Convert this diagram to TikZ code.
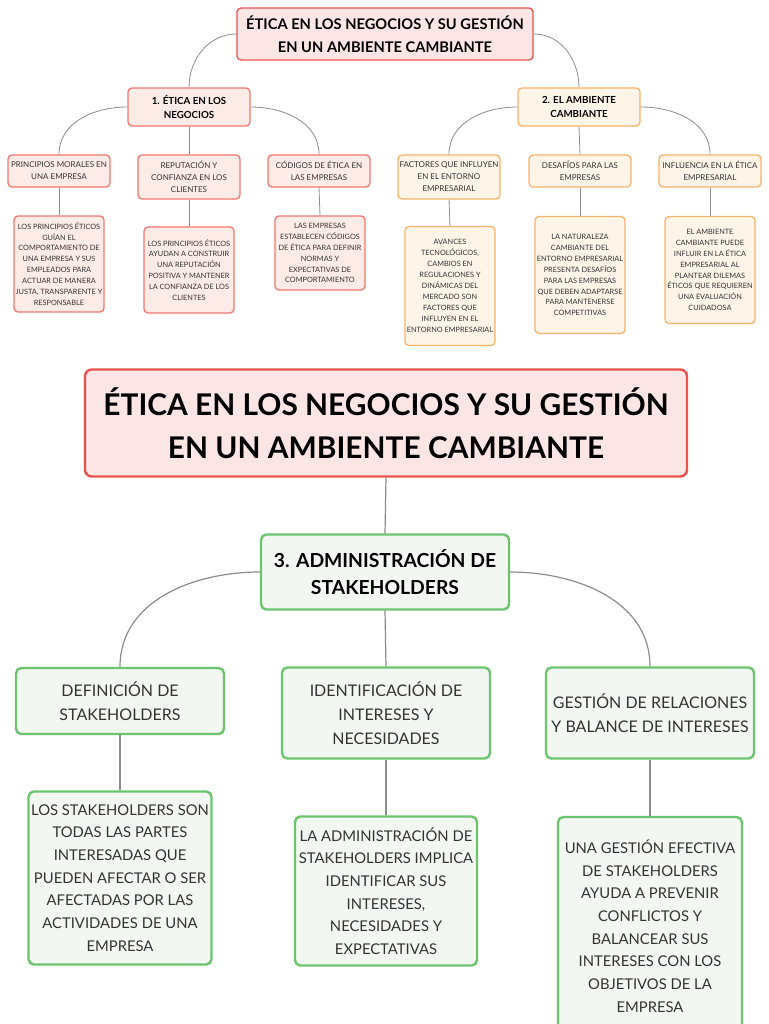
\documentclass[tikz,border=0pt]{standalone}
\usepackage{fontspec}
\setmainfont{Lato}
\definecolor{titleline}{HTML}{E8534E}
\definecolor{titlefill}{HTML}{FCE6E5}
\definecolor{redline}{HTML}{F2776E}
\definecolor{redfill}{HTML}{FDEBE7}
\definecolor{orangeline}{HTML}{F8B26A}
\definecolor{orangefill}{HTML}{FEF4E8}
\definecolor{greenline}{HTML}{6CC46E}
\definecolor{greenfill}{HTML}{F2F7F2}
\definecolor{linkgray}{HTML}{8C8C8C}
\definecolor{inkgray}{HTML}{333333}
\begin{document}
\begin{tikzpicture}[x=0.75pt,y=-0.75pt,
  box/.style={draw,rounded corners=3pt,inner sep=0pt,align=center,text=inkgray,line width=1pt},
  titlebox/.style={box,draw=titleline,fill=titlefill,text=black},
  redbox/.style={box,draw=redline,fill=redfill},
  orangebox/.style={box,draw=orangeline,fill=orangefill},
  greenbox/.style={box,draw=greenline,fill=greenfill,rounded corners=4pt,line width=1.8pt},
  smallhead/.style={font=\bfseries\fontsize{7.3}{10.5}\selectfont,text=black},
  smalltext/.style={font=\fontsize{6}{9}\selectfont,minimum width=76.5pt},
  tinytext/.style={font=\fontsize{5.5}{8.2}\selectfont,minimum width=67.5pt},
  link/.style={draw=linkgray,line width=0.6pt},
  biglink/.style={draw=linkgray,line width=0.9pt}]
\useasboundingbox[fill=white] (0,0) rectangle (768,1024);

% first map
\node[titlebox,minimum width=222pt,minimum height=39pt,font=\bfseries\fontsize{11}{17}\selectfont] (etica) at (385,34) {ÉTICA EN LOS NEGOCIOS Y SU GESTIÓN\\EN UN AMBIENTE CAMBIANTE};

\node[redbox,smallhead,minimum width=91.5pt,minimum height=28.5pt] (negocios) at (189,107) {1. ÉTICA EN LOS\\NEGOCIOS};
\node[orangebox,smallhead,minimum width=91.5pt,minimum height=28.5pt] (ambiente) at (579,107) {2. EL AMBIENTE\\CAMBIANTE};

\node[redbox,smalltext,minimum height=24pt] (principios) at (59,171) {PRINCIPIOS MORALES EN\\UNA EMPRESA};
\node[redbox,smalltext,minimum height=33pt] (reputacion) at (189,177) {REPUTACIÓN Y\\CONFIANZA EN LOS\\CLIENTES};
\node[redbox,smalltext,minimum height=24pt] (codigos) at (319,171) {CÓDIGOS DE ÉTICA EN\\LAS EMPRESAS};

\node[orangebox,smalltext,minimum height=33pt] (factores) at (449,177) {FACTORES QUE INFLUYEN\\EN EL ENTORNO\\EMPRESARIAL};
\node[orangebox,smalltext,minimum height=24pt] (desafios) at (580,171) {DESAFÍOS PARA LAS\\EMPRESAS};
\node[orangebox,smalltext,minimum height=24pt] (influencia) at (710,171) {INFLUENCIA EN LA ÉTICA\\EMPRESARIAL};

\node[redbox,tinytext,minimum height=72pt] (principiosd) at (59,264) {LOS PRINCIPIOS ÉTICOS\\GUÍAN EL\\COMPORTAMIENTO DE\\UNA EMPRESA Y SUS\\EMPLEADOS PARA\\ACTUAR DE MANERA\\JUSTA, TRANSPARENTE Y\\RESPONSABLE};
\node[redbox,tinytext,minimum height=64.5pt] (reputaciond) at (189,270) {LOS PRINCIPIOS ÉTICOS\\AYUDAN A CONSTRUIR\\UNA REPUTACIÓN\\POSITIVA Y MANTENER\\LA CONFIANZA DE LOS\\CLIENTES};
\node[redbox,tinytext,minimum height=55.5pt] (codigosd) at (320,253) {LAS EMPRESAS\\ESTABLECEN CÓDIGOS\\DE ÉTICA PARA DEFINIR\\NORMAS Y\\EXPECTATIVAS DE\\COMPORTAMIENTO};

\node[orangebox,tinytext,minimum height=89.25pt] (factoresd) at (450,286) {AVANCES\\TECNOLÓGICOS,\\CAMBIOS EN\\REGULACIONES Y\\DINÁMICAS DEL\\MERCADO SON\\FACTORES QUE\\INFLUYEN EN EL\\ENTORNO EMPRESARIAL};
\node[orangebox,tinytext,minimum height=87.75pt] (desafiosd) at (580,275) {LA NATURALEZA\\CAMBIANTE DEL\\ENTORNO EMPRESARIAL\\PRESENTA DESAFÍOS\\PARA LAS EMPRESAS\\QUE DEBEN ADAPTARSE\\PARA MANTENERSE\\COMPETITIVAS};
\node[orangebox,tinytext,minimum height=80.25pt] (influenciad) at (710,270) {EL AMBIENTE\\CAMBIANTE PUEDE\\INFLUIR EN LA ÉTICA\\EMPRESARIAL AL\\PLANTEAR DILEMAS\\ÉTICOS QUE REQUIEREN\\UNA EVALUACIÓN\\CUIDADOSA};

\draw[link] (etica.west) to[out=180,in=90] (negocios.north);
\draw[link] (etica.east) to[out=0,in=90] (ambiente.north);
\draw[link] (negocios.west) to[out=180,in=90] (principios.north);
\draw[link] (negocios.south) -- (reputacion.north);
\draw[link] (negocios.east) to[out=0,in=90] (codigos.north);
\draw[link] (ambiente.west) to[out=180,in=90] (factores.north);
\draw[link] (ambiente.south) -- (desafios.north);
\draw[link] (ambiente.east) to[out=0,in=90] (influencia.north);
\draw[link] (principios.south) -- (principiosd.north);
\draw[link] (reputacion.south) -- (reputaciond.north);
\draw[link] (codigos.south) -- (codigosd.north);
\draw[link] (factores.south) -- (factoresd.north);
\draw[link] (desafios.south) -- (desafiosd.north);
\draw[link] (influencia.south) -- (influenciad.north);

% second map
\node[titlebox,rounded corners=5pt,line width=1.8pt,minimum width=451.5pt,minimum height=80.25pt,font=\bfseries\fontsize{22.4}{32}\selectfont] (eticabig) at (386,423) {ÉTICA EN LOS NEGOCIOS Y SU GESTIÓN\\EN UN AMBIENTE CAMBIANTE};

\node[greenbox,minimum width=186pt,minimum height=56.25pt,font=\bfseries\fontsize{14.5}{20}\selectfont,text=black] (admin) at (385,572) {3. ADMINISTRACIÓN DE\\STAKEHOLDERS};

\node[greenbox,minimum width=156pt,minimum height=49.5pt,font=\fontsize{12}{18}\selectfont] (definicion) at (120,701) {DEFINICIÓN DE\\STAKEHOLDERS};
\node[greenbox,minimum width=156pt,minimum height=68.25pt,font=\fontsize{12}{18}\selectfont] (identificacion) at (386,713) {IDENTIFICACIÓN DE\\INTERESES Y\\NECESIDADES};
\node[greenbox,minimum width=156pt,minimum height=68.25pt,font=\fontsize{12}{18}\selectfont] (gestion) at (650,713) {GESTIÓN DE RELACIONES\\Y BALANCE DE INTERESES};

\node[greenbox,minimum width=137.25pt,minimum height=129.75pt,font=\fontsize{11.1}{17}\selectfont] (definiciond) at (120,878) {LOS STAKEHOLDERS SON\\TODAS LAS PARTES\\INTERESADAS QUE\\PUEDEN AFECTAR O SER\\AFECTADAS POR LAS\\ACTIVIDADES DE UNA\\EMPRESA};
\node[greenbox,minimum width=136.5pt,minimum height=111.75pt,font=\fontsize{11.1}{17}\selectfont] (identificaciond) at (386,891) {LA ADMINISTRACIÓN DE\\STAKEHOLDERS IMPLICA\\IDENTIFICAR SUS\\INTERESES,\\NECESIDADES Y\\EXPECTATIVAS};
\node[greenbox,minimum width=138pt,minimum height=163.5pt,font=\fontsize{11.1}{17}\selectfont] (gestiond) at (650,926) {UNA GESTIÓN EFECTIVA\\DE STAKEHOLDERS\\AYUDA A PREVENIR\\CONFLICTOS Y\\BALANCEAR SUS\\INTERESES CON LOS\\OBJETIVOS DE LA\\EMPRESA};

\draw[biglink] (eticabig.south) -- (admin.north);
\draw[biglink] (admin.west) to[out=180,in=90] (definicion.north);
\draw[biglink] (admin.south) -- (identificacion.north);
\draw[biglink] (admin.east) to[out=0,in=90] (gestion.north);
\draw[biglink] (definicion.south) -- (definiciond.north);
\draw[biglink] (identificacion.south) -- (identificaciond.north);
\draw[biglink] (gestion.south) -- (gestiond.north);
\end{tikzpicture}
\end{document}
